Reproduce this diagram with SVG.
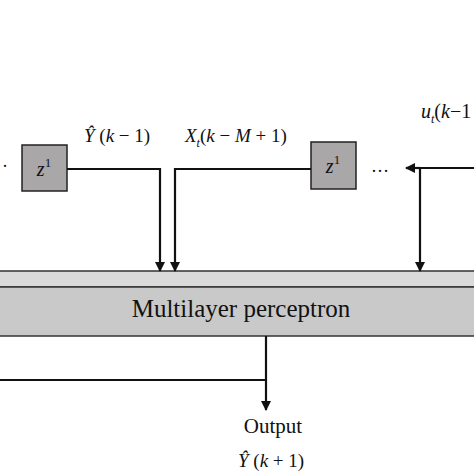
<svg xmlns="http://www.w3.org/2000/svg" width="474" height="474" viewBox="0 0 474 474">
<style>
text{font-family:"Liberation Serif","Times New Roman",serif;fill:#111}
.lbl{font-size:19px}
.i{font-style:italic}
.box{fill:#a9a7a7;stroke:#222;stroke-width:1.5}
.ln{fill:none;stroke:#111;stroke-width:2.2}
</style>
<defs>
<marker id="ah" markerWidth="10" markerHeight="10" refX="9" refY="5" orient="auto" markerUnits="userSpaceOnUse">
<path d="M0,0 L10,5 L0,10 Z" fill="#111"/>
</marker>
</defs>
<rect width="474" height="474" fill="#fff"/>
<g id="mlp">
<rect x="-2" y="271" width="478" height="16" fill="#dadada" stroke="#333" stroke-width="1.5"/>
<rect x="-2" y="287" width="478" height="49" fill="#c9c9c9" stroke="#333" stroke-width="1.5"/>
<text x="241" y="317" font-size="25" text-anchor="middle">Multilayer perceptron</text>
</g>
<g id="delay1">
<rect class="box" x="22" y="145" width="45" height="46"/>
<text x="44" y="176" font-size="20" text-anchor="middle"><tspan class="i">z</tspan><tspan font-size="13" dy="-9">1</tspan></text>
</g>
<g id="delay2">
<rect class="box" x="311" y="142" width="45" height="47"/>
<text x="333" y="173" font-size="20" text-anchor="middle"><tspan class="i">z</tspan><tspan font-size="13" dy="-9">1</tspan></text>
</g>
<g id="labels">
<text x="2" y="172" font-size="18">·</text>
<text x="371" y="172" font-size="18">…</text>
<text class="lbl" x="84" y="142"><tspan class="i">Ŷ</tspan> (<tspan class="i">k</tspan> − 1)</text>
<text class="lbl" x="185" y="142"><tspan class="i">X</tspan><tspan class="i" font-size="12" dy="5">t</tspan><tspan dy="-5">(</tspan><tspan class="i">k</tspan> − <tspan class="i">M</tspan> + 1)</text>
<text x="421" y="118" font-size="20"><tspan class="i">u</tspan><tspan class="i" font-size="12" dy="5">t</tspan><tspan dy="-5">(</tspan><tspan class="i">k</tspan>−1</text>
<text x="273" y="433" font-size="21" text-anchor="middle">Output</text>
<text class="lbl" x="238" y="467"><tspan class="i">Ŷ</tspan> (<tspan class="i">k</tspan> + 1)</text>
</g>
<g id="connectors">
<path class="ln" d="M67,169 H160 V271" marker-end="url(#ah)"/>
<path class="ln" d="M311,169 H175 V271" marker-end="url(#ah)"/>
<path class="ln" d="M476,168 H420 V271" marker-end="url(#ah)"/>
<path class="ln" d="M420,168 H406" marker-end="url(#ah)"/>
<path class="ln" d="M266,336 V410" marker-end="url(#ah)"/>
<path class="ln" d="M-2,380 H266"/>
</g>
</svg>
